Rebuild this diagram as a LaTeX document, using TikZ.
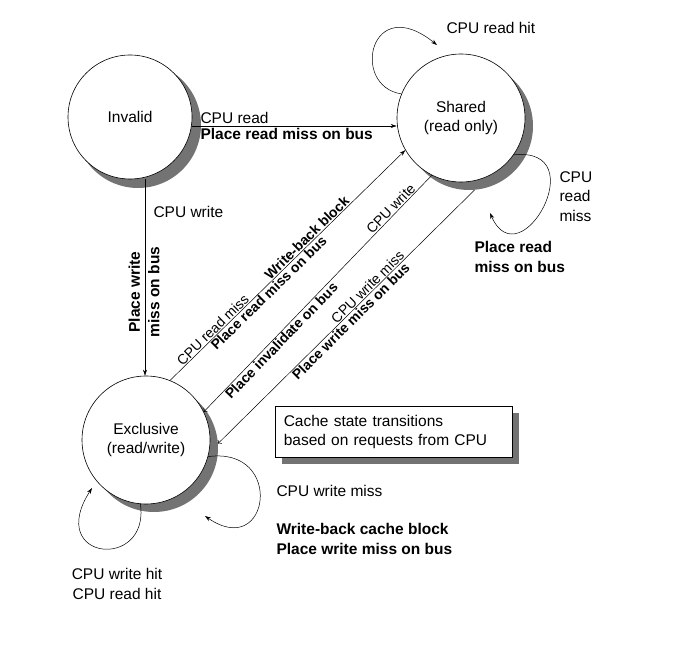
\documentclass[tikz,border=0pt]{standalone}
\usepackage{fontspec}
\setmainfont{Liberation Sans}
\usetikzlibrary{arrows.meta}
\begin{document}
\begin{tikzpicture}[x=1pt,y=1pt,
  every node/.style={font=\fontsize{15.5}{19.5}\selectfont},
  st/.style={circle,draw,fill=white,line width=0.6pt,minimum size=#1,inner sep=0pt,align=center},
  sh/.style={circle,fill=black!55,minimum size=#1,inner sep=0pt},
  ar/.style={-{Stealth[length=6pt,width=4pt]},line width=0.5pt},
  lb/.style={font=\fontsize{15.5}{19.5}\selectfont\bfseries},
  dl/.style={sloped,inner sep=1pt,font=\fontsize{14}{17}\selectfont},
  dlb/.style={dl,font=\fontsize{14}{17}\selectfont\bfseries},
  ann/.style={inner sep=2pt}]
\useasboundingbox (0,0) rectangle (673,646);
% shadows
\node[sh=126pt] (ivs) at (138,521) {};
\node[sh=128pt] (shs) at (469,520) {};
\node[sh=128pt] (exs) at (154,198) {};
% states
\node[st=124pt] (inv) at (130,529) {Invalid};
\node[st=128pt] (shd) at (461,528) {Shared\\(read only)};
\node[st=128pt] (exc) at (146,206) {Exclusive\\(read/write)};
% invalid -> shared
\draw[ar] (inv.east |- 0,520) -- (shd.west |- 0,520)
  node[pos=0,anchor=south west,ann,xshift=6pt] {CPU read}
  node[pos=0,anchor=north west,ann,lb,xshift=6pt] {Place read miss on bus};
% invalid -> exclusive
\draw[ar] (inv.south -| 145,0) -- (exc.north -| 145,0);
\node[anchor=west] at (150,434) {CPU write};
\node[lb,rotate=90,align=center] at (144,354) {Place write\\miss on bus};
% exclusive -> shared
\draw[ar] (exc.68) -- (shd.210)
  node[pos=0.2,above,dl] {CPU read miss}
  node[pos=0.6,above,dlb] {Write-back block}
  node[pos=0.4,below,dlb] {Place read miss on bus};
% shared -> exclusive (CPU write)
\draw[ar,<-] (exc.26) -- (shd.243)
  node[pos=0.84,above,dl] {CPU write}
  node[pos=0.32,below,dlb] {Place invalidate on bus};
% shared -> exclusive (CPU write miss)
\draw[ar,<-] (exs.4) -- (shs.275)
  node[pos=0.6,above,dl] {CPU write miss}
  node[pos=0.5,below,dlb] {Place write miss on bus};
% shared self loops
\coordinate (t1) at (437,601);
\draw[ar] (shd.158) .. controls (350,560) and (370,655) .. (t1);
\node[anchor=west] at (443,618) {CPU read hit};
\coordinate (t2) at (490,433);
\draw[ar] (shd.-35) .. controls (595,500) and (520,365) .. (t2);
\node[align=left,anchor=north west] at (556,478) {CPU\\read\\miss};
\node[lb,align=left,anchor=north west] at (471,408) {Place read\\miss on bus};
% exclusive self loops
\coordinate (t3) at (205,130);
\draw[ar] (exc.-15) .. controls (285,200) and (270,85) .. (t3);
\node[anchor=west] at (273,155) {CPU write miss};
\node[lb,align=left,anchor=north west] at (273,126) {Write-back cache block\\Place write miss on bus};
\coordinate (t4) at (92,158);
\draw[ar] (exc.-95) .. controls (150,75) and (45,85) .. (t4);
\node[align=center] at (117,62) {CPU write hit\\CPU read hit};
% box
\fill[black!55] (282,182) rectangle (519,233);
\node[draw,fill=white,line width=0.6pt,minimum width=237pt,minimum height=51pt,align=left,text width=220pt,anchor=north west] (box) at (275,240) {Cache state transitions\\based on requests from CPU};
\end{tikzpicture}
\end{document}
